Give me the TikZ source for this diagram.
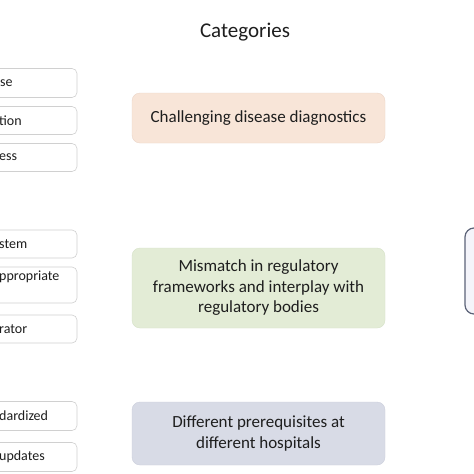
\documentclass[tikz,border=0pt]{standalone}
\usepackage{fontspec}
\setmainfont{Carlito}
\usepackage{tikz}
\usetikzlibrary{positioning}
\usepackage{xcolor}
\definecolor{txtdark}{RGB}{30,30,30}
\definecolor{peach}{RGB}{248,229,216}
\definecolor{peachline}{RGB}{236,214,200}
\definecolor{sage}{RGB}{227,236,214}
\definecolor{sageline}{RGB}{214,226,200}
\definecolor{slate}{RGB}{216,219,230}
\definecolor{slateline}{RGB}{204,207,220}
\definecolor{greyline}{RGB}{208,208,208}
\definecolor{frameblue}{RGB}{92,99,120}
\definecolor{framefill}{RGB}{244,244,250}
\tikzset{
    catbox/.style={draw=#1line, rounded corners=8pt, fill=#1,
                   minimum width=253pt, minimum height=50pt,
                   font=\fontsize{17}{20.5}\selectfont, text=txtdark, align=center},
    subbox/.style={draw=greyline, rounded corners=5pt, fill=white,
                   minimum width=150pt, minimum height=#1, line width=0.6pt},
    subtxt/.style={anchor=west, inner sep=0pt,
                   font=\fontsize{14}{16}\selectfont, text=txtdark},
}

\begin{document}
\begin{tikzpicture}[x=1pt, y=-1pt]
    \clip (0,0) rectangle (474,474);
    \fill[white] (0,0) rectangle (474,474);

    \node[font=\fontsize{21}{24}\selectfont, text=txtdark] (title) at (245,32) {Categories};

    % left column (cut by the frame)
    \node[subbox=29pt] (s1) at (2,83) {};
    \node[subtxt] (s1t) at (0,83) {se};
    \node[subbox=28pt] (s2) at (2,120.5) {};
    \node[subtxt] (s2t) at (-1,120.5) {tion};
    \node[subbox=28pt] (s3) at (2,157.5) {};
    \node[subtxt] (s3t) at (-1,157.5) {ess};

    \node[subbox=28pt] (s4) at (2,244) {};
    \node[subtxt] (s4t) at (-1,244) {stem};
    \node[subbox=36pt] (s5) at (2,285) {};
    \node[subtxt] (s5t) at (-1,277) {ppropriate};
    \node[subbox=28pt] (s6) at (2,329) {};
    \node[subtxt] (s6t) at (-1,329) {rator};

    \node[subbox=29pt] (s7) at (2,416) {};
    \node[subtxt] (s7t) at (-1,416) {dardized};
    \node[subbox=29pt] (s8) at (2,457) {};
    \node[subtxt] (s8t) at (-1,457) {updates};

    % categories
    \node[catbox=peach] (diag) at (258.5,118) {Challenging disease diagnostics};
    \node[catbox=sage, minimum height=80pt] (reg) at (258.5,288)
        {Mismatch in regulatory\\frameworks and interplay with\\regulatory bodies};
    \node[catbox=slate, minimum height=63pt] (hosp) at (258.5,433.5)
        {Different prerequisites at\\different hospitals};

    % right frame (cut)
    \node[draw=frameblue, line width=1.2pt, rounded corners=9pt, fill=framefill,
          minimum width=60pt, minimum height=86pt] (outc) at (495,271) {};
\end{tikzpicture}
\end{document}
